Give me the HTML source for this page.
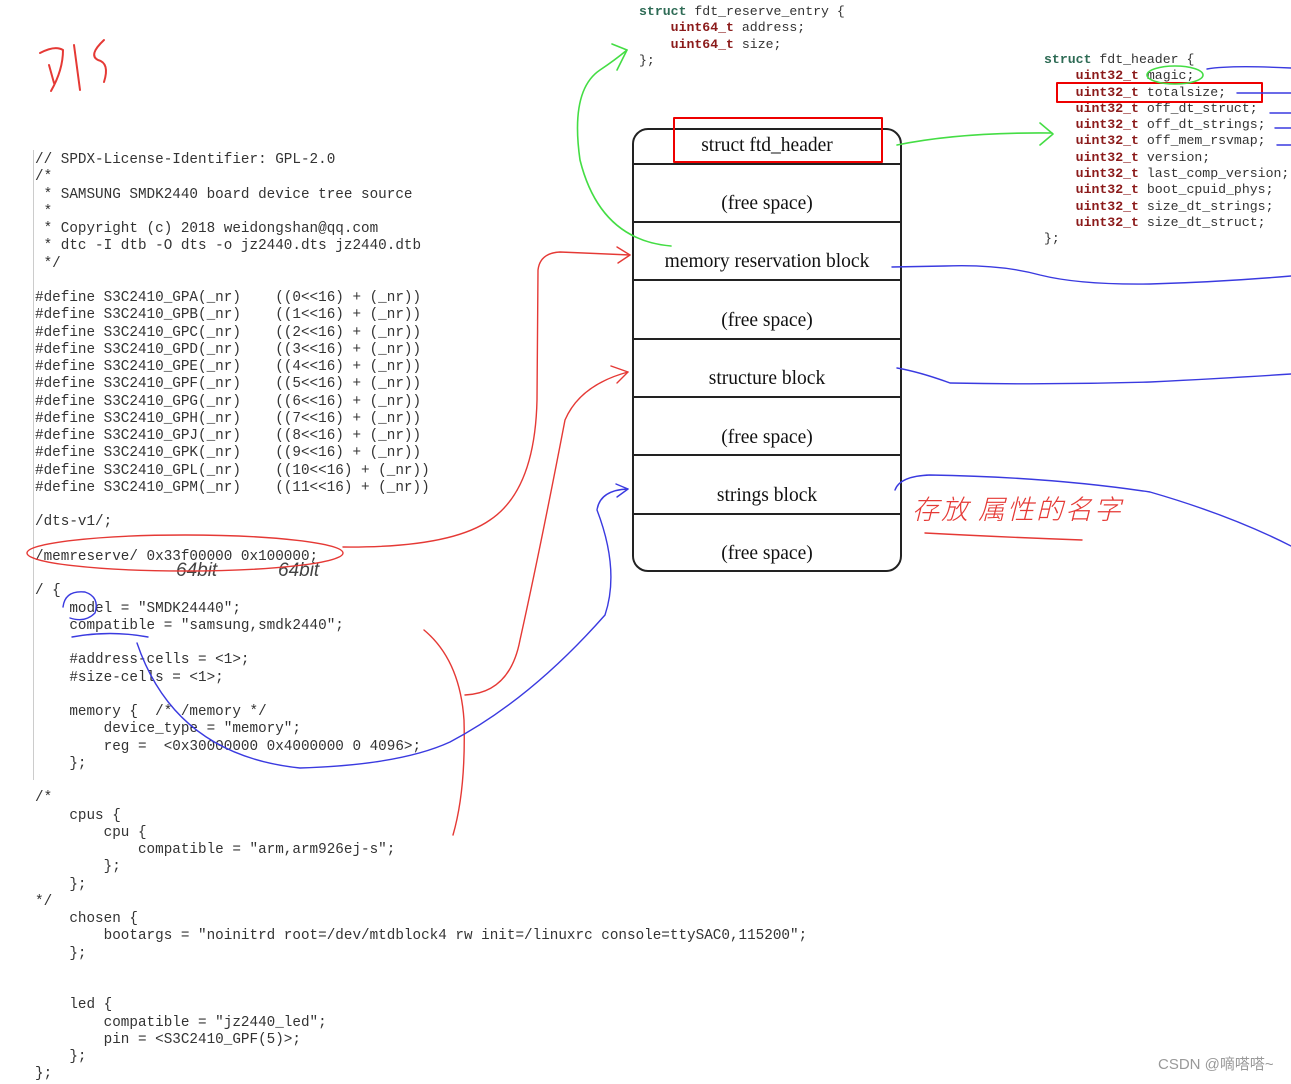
<!DOCTYPE html>
<html><head><meta charset="utf-8">
<style>
html,body{margin:0;padding:0;background:#fff;}
body{width:1291px;height:1079px;position:relative;overflow:hidden;font-family:"Liberation Sans",sans-serif;}
pre{margin:0;position:absolute;font-family:"Liberation Mono",monospace;color:#333;}
#dts{left:35px;top:152px;font-size:14.3px;line-height:17.25px;}
.s1{left:639px;top:4px;font-size:13.2px;line-height:16.4px;}
.s2{left:1044px;top:52px;font-size:13.2px;line-height:16.3px;}
.k{color:#2e6b55;font-weight:bold;}
.t{color:#8b1a1a;font-weight:bold;}
#box{position:absolute;left:632px;top:128px;width:266px;height:440px;border:2px solid #222;border-radius:16px;}
.row{position:absolute;left:0;width:266px;text-align:center;font-family:"Liberation Serif",serif;font-size:19.5px;color:#111;}
.ln{position:absolute;left:0;width:266px;height:2px;background:#222;}
#vbar{position:absolute;left:33px;top:150px;width:1px;height:630px;background:#ccc;}
</style></head><body>
<div id="vbar"></div>
<pre id="dts">// SPDX-License-Identifier: GPL-2.0
/*
 * SAMSUNG SMDK2440 board device tree source
 *
 * Copyright (c) 2018 weidongshan@qq.com
 * dtc -I dtb -O dts -o jz2440.dts jz2440.dtb
 */

#define S3C2410_GPA(_nr)    ((0&lt;&lt;16) + (_nr))
#define S3C2410_GPB(_nr)    ((1&lt;&lt;16) + (_nr))
#define S3C2410_GPC(_nr)    ((2&lt;&lt;16) + (_nr))
#define S3C2410_GPD(_nr)    ((3&lt;&lt;16) + (_nr))
#define S3C2410_GPE(_nr)    ((4&lt;&lt;16) + (_nr))
#define S3C2410_GPF(_nr)    ((5&lt;&lt;16) + (_nr))
#define S3C2410_GPG(_nr)    ((6&lt;&lt;16) + (_nr))
#define S3C2410_GPH(_nr)    ((7&lt;&lt;16) + (_nr))
#define S3C2410_GPJ(_nr)    ((8&lt;&lt;16) + (_nr))
#define S3C2410_GPK(_nr)    ((9&lt;&lt;16) + (_nr))
#define S3C2410_GPL(_nr)    ((10&lt;&lt;16) + (_nr))
#define S3C2410_GPM(_nr)    ((11&lt;&lt;16) + (_nr))

/dts-v1/;

/memreserve/ 0x33f00000 0x100000;

/ {
    model = "SMDK24440";
    compatible = "samsung,smdk2440";

    #address-cells = &lt;1&gt;;
    #size-cells = &lt;1&gt;;

    memory {  /* /memory */
        device_type = "memory";
        reg =  &lt;0x30000000 0x4000000 0 4096&gt;;
    };

/*
    cpus {
        cpu {
            compatible = "arm,arm926ej-s";
        };
    };
*/
    chosen {
        bootargs = "noinitrd root=/dev/mtdblock4 rw init=/linuxrc console=ttySAC0,115200";
    };


    led {
        compatible = "jz2440_led";
        pin = &lt;S3C2410_GPF(5)&gt;;
    };
};</pre>

<pre class="s1"><span class="k">struct</span> fdt_reserve_entry {
    <span class="t">uint64_t</span> address;
    <span class="t">uint64_t</span> size;
};</pre>

<pre class="s2"><span class="k">struct</span> fdt_header {
    <span class="t">uint32_t</span> magic;
    <span class="t">uint32_t</span> totalsize;
    <span class="t">uint32_t</span> off_dt_struct;
    <span class="t">uint32_t</span> off_dt_strings;
    <span class="t">uint32_t</span> off_mem_rsvmap;
    <span class="t">uint32_t</span> version;
    <span class="t">uint32_t</span> last_comp_version;
    <span class="t">uint32_t</span> boot_cpuid_phys;
    <span class="t">uint32_t</span> size_dt_strings;
    <span class="t">uint32_t</span> size_dt_struct;
};</pre>

<div id="box">
  <div class="row" style="top:5px">struct ftd_header</div>
  <div class="ln" style="top:33px"></div>
  <div class="row" style="top:63px">(free space)</div>
  <div class="ln" style="top:91px"></div>
  <div class="row" style="top:121px">memory reservation block</div>
  <div class="ln" style="top:149px"></div>
  <div class="row" style="top:180px">(free space)</div>
  <div class="ln" style="top:208px"></div>
  <div class="row" style="top:238px">structure block</div>
  <div class="ln" style="top:266px"></div>
  <div class="row" style="top:297px">(free space)</div>
  <div class="ln" style="top:324px"></div>
  <div class="row" style="top:355px">strings block</div>
  <div class="ln" style="top:383px"></div>
  <div class="row" style="top:413px">(free space)</div>
</div>

<div style="position:absolute;left:912px;top:488px;font-family:'Noto Sans CJK SC',sans-serif;font-size:27px;color:#e53935;letter-spacing:2px;font-style:italic;font-weight:300;">存放 属性的名字</div>
<div style="position:absolute;left:176px;top:560px;font-size:19px;color:#444;font-style:italic;">64bit</div>
<div style="position:absolute;left:278px;top:560px;font-size:19px;color:#444;font-style:italic;">64bit</div>
<div style="position:absolute;left:1158px;top:1053px;font-size:15px;color:#999;font-family:'Liberation Sans','Noto Sans CJK SC',sans-serif;">CSDN @嘀嗒嗒~</div>

<svg width="1291" height="1079" style="position:absolute;left:0;top:0;" fill="none" stroke-linecap="round" stroke-linejoin="round">
  <rect x="674" y="118" width="208" height="44" stroke="#e00" stroke-width="2"/>
  <rect x="1057" y="83" width="205" height="19" stroke="#e00" stroke-width="2"/>
  <g stroke="#e53935" stroke-width="2">
    <path d="M40 53 Q55 45 63 50 Q63 70 51 91"/>
    <path d="M49 65 L54 83"/>
    <path d="M74 45 L80 90"/>
    <path d="M104 40 Q88 55 98 60 Q110 63 104 82"/>
  </g>
  <g stroke="#44dd44" stroke-width="1.6">
    <path d="M671 246 Q600 240 580 160 Q570 90 600 70 Q615 60 627 50"/>
    <path d="M612 44 L627 50 L617 70"/>
    <path d="M897 145 Q960 132 1052 133"/>
    <path d="M1040 123 L1053 134 L1040 145"/>
    <ellipse cx="1175" cy="75" rx="28" ry="9"/>
  </g>
  <g stroke="#e53935" stroke-width="1.4">
    <ellipse cx="185" cy="553" rx="158" ry="18"/>
    <path d="M343 547 Q450 548 490 520 Q535 490 537 400 L538 270 Q540 253 560 252 L630 255"/>
    <path d="M617 247 L630 255 L618 263"/>
    <path d="M465 695 Q510 693 520 640 Q540 550 565 420 Q580 385 628 372"/>
    <path d="M611 366 L628 372 L617 383"/>
    <path d="M424 630 Q460 660 464 720 Q466 790 453 835"/>
    <path d="M925 533 Q1000 537 1082 540"/>
  </g>
  <g stroke="#3a3ae0" stroke-width="1.4">
    <path d="M63 607 Q65 590 85 592 Q100 597 95 613 Q85 623 70 618"/>
    <path d="M72 637 Q110 630 148 637"/>
    <path d="M137 643 Q175 755 300 768 Q400 765 450 742 Q530 700 605 615 Q620 570 597 510 Q600 490 628 489"/>
    <path d="M616 484 L628 489 L617 497"/>
    <path d="M892 267 L945 266 Q1000 264 1040 275 Q1080 285 1150 284 Q1220 282 1291 276"/>
    <path d="M897 368 Q920 372 950 383 Q1050 385 1150 382 Q1230 378 1291 374"/>
    <path d="M895 490 Q900 476 930 475 Q1050 477 1150 492 Q1230 515 1291 546"/>
    <path d="M1207 69 Q1230 65 1291 68"/>
    <path d="M1237 93 L1291 93"/>
    <path d="M1270 113 L1291 113"/>
    <path d="M1275 128 L1291 128"/>
    <path d="M1277 145 L1291 145"/>
  </g>
</svg>
</body></html>
